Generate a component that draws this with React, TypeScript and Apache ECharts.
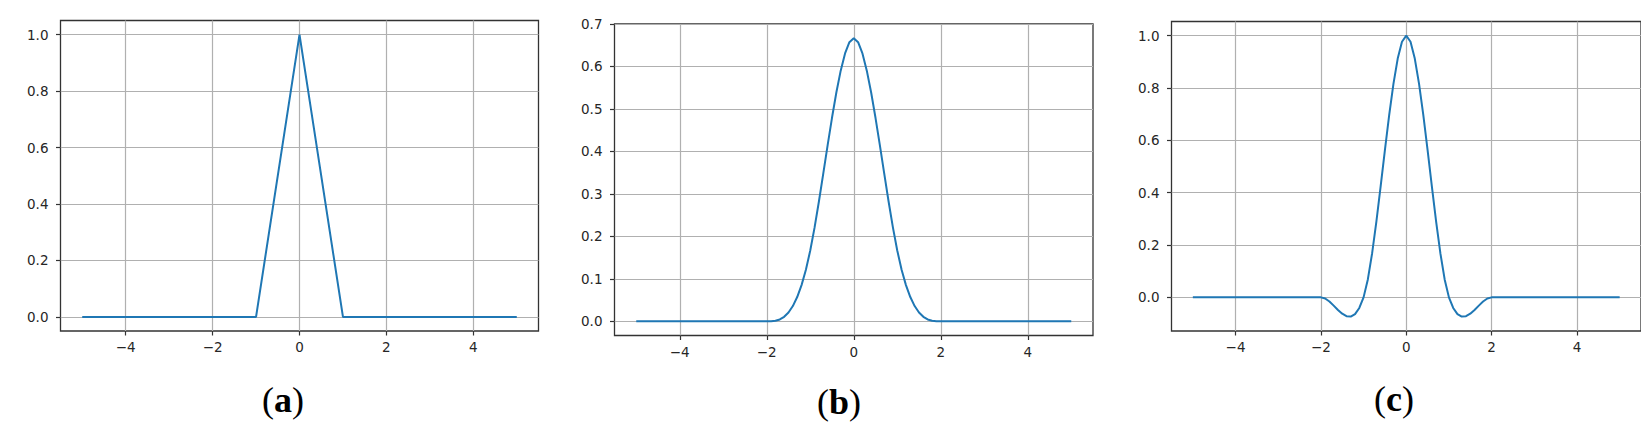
import React, { useEffect, useRef } from "react";
import * as echarts from "echarts";

// ---- data ----
const xTriangle = [-5, -1, 0, 1, 5];
const yTriangle = [0, 0, 1, 0, 0];

const xCurve = [
  -5, -2, -1.9, -1.8, -1.7, -1.6, -1.5, -1.4, -1.3, -1.2, -1.1, -1, -0.9, -0.8, -0.7, -0.6, -0.5, -0.4,
  -0.3, -0.2, -0.1, 0, 0.1, 0.2, 0.3, 0.4, 0.5, 0.6, 0.7, 0.8, 0.9, 1, 1.1, 1.2, 1.3, 1.4, 1.5, 1.6,
  1.7, 1.8, 1.9, 2, 5,
];

const yBspline = [
  0, 0, 0.0002, 0.0013, 0.0045, 0.0107, 0.0208, 0.036, 0.0572, 0.0853, 0.1215, 0.1667, 0.2212, 0.2827,
  0.3482, 0.4147, 0.4792, 0.5387, 0.5902, 0.6307, 0.6572, 0.6667, 0.6572, 0.6307, 0.5902, 0.5387,
  0.4792, 0.4147, 0.3482, 0.2827, 0.2212, 0.1667, 0.1215, 0.0853, 0.0572, 0.036, 0.0208, 0.0107,
  0.0045, 0.0013, 0.0002, 0, 0,
];

const yCubic = [
  0, 0, -0.0045, -0.016, -0.0315, -0.048, -0.0625, -0.072, -0.0735, -0.064, -0.0405, 0, 0.0685, 0.168,
  0.2895, 0.424, 0.5625, 0.696, 0.8155, 0.912, 0.9765, 1, 0.9765, 0.912, 0.8155, 0.696, 0.5625, 0.424,
  0.2895, 0.168, 0.0685, 0, -0.0405, -0.064, -0.0735, -0.072, -0.0625, -0.048, -0.0315, -0.016,
  -0.0045, 0, 0,
];

const xTicks = [-4, -2, 0, 2, 4];
const yTicksA = [0, 0.2, 0.4, 0.6, 0.8, 1.0];
const yTicksB = [0, 0.1, 0.2, 0.3, 0.4, 0.5, 0.6, 0.7];
const yTicksC = [0, 0.2, 0.4, 0.6, 0.8, 1.0];
const panelLetters = ["a", "b", "c"];

const LABEL_FONT = "DejaVu Sans";
const LABEL_COLOR = "#262626";
const LINE_COLOR = "#1f77b4";

function pairs(xs: number[], ys: number[]) {
  return xs.map((x, i) => [x, ys[i]]);
}

export default function App() {
  const ref = useRef<HTMLDivElement>(null);

  useEffect(() => {
    if (!ref.current) return;
    const chart = echarts.init(ref.current, undefined, { renderer: "svg" });

    const grids = [
      { left: 60.5, top: 20.5, width: 478, height: 310.5 },
      { left: 614.5, top: 24, width: 478.5, height: 311.5 },
      { left: 1171.5, top: 21.5, width: 473, height: 309.5 },
    ];
    const yRanges = [
      [-0.05, 1.05],
      [-0.0333, 0.7],
      [-0.1285, 1.0537],
    ];
    const yTicks = [yTicksA, yTicksB, yTicksC];
    const titlePos = [
      [283, 400],
      [839, 402],
      [1394, 399],
    ];

    const xAxis = grids.map((_, i) => ({
      type: "value",
      gridIndex: i,
      position: "bottom",
      min: -5.5,
      max: 5.5,
      axisLine: { show: false, onZero: false },
      axisTick: {
        show: true,
        customValues: xTicks,
        length: 4.5,
        lineStyle: { color: "#333", width: 1.2 },
      },
      axisLabel: {
        customValues: xTicks,
        margin: 9,
        fontFamily: LABEL_FONT,
        fontSize: 13.5,
        color: LABEL_COLOR,
        formatter: (v: number) => (v < 0 ? "\u2212" + Math.abs(v) : String(v)),
      },
      splitLine: { show: true, lineStyle: { color: "#b0b0b0", width: 1.2 } },
    }));

    const yAxis = grids.map((_, i) => ({
      type: "value",
      gridIndex: i,
      position: "left",
      min: yRanges[i][0],
      max: yRanges[i][1],
      axisLine: { show: false, onZero: false },
      axisTick: {
        show: true,
        customValues: yTicks[i],
        length: 4.5,
        lineStyle: { color: "#333", width: 1.2 },
      },
      axisLabel: {
        customValues: yTicks[i],
        margin: 12,
        fontFamily: LABEL_FONT,
        fontSize: 13.5,
        color: LABEL_COLOR,
        formatter: (v: number) => v.toFixed(1),
      },
      splitLine: { show: true, lineStyle: { color: "#b0b0b0", width: 1.2 } },
    }));

    const seriesData = [
      pairs(xTriangle, yTriangle),
      pairs(xCurve, yBspline),
      pairs(xCurve, yCubic),
    ];

    const series = seriesData.map((d, i) => ({
      type: "line",
      xAxisIndex: i,
      yAxisIndex: i,
      data: d,
      showSymbol: false,
      symbol: "none",
      lineStyle: { color: LINE_COLOR, width: 2 },
      z: 5,
    }));

    const graphic = panelLetters.map((letter, i) => ({
      type: "text",
      x: titlePos[i][0],
      y: titlePos[i][1],
      style: {
        text: "{p|(}{b|" + letter + "}{p|)}",
        align: "center",
        verticalAlign: "middle",
        fill: "#000",
        rich: {
          p: { fontFamily: "Liberation Serif", fontSize: 36, fill: "#000", fontWeight: "normal" },
          b: { fontFamily: "Liberation Serif", fontSize: 36, fill: "#000", fontWeight: "bold" },
        },
      },
    }));

    chart.setOption({
      animation: false,
      backgroundColor: "#ffffff",
      grid: grids.map((g) => ({
        ...g,
        show: true,
        borderColor: "#333",
        borderWidth: 1.3,
        backgroundColor: "transparent",
        containLabel: false,
      })),
      xAxis,
      yAxis,
      series,
      graphic,
    });

    return () => chart.dispose();
  }, []);

  return (
    <div
      ref={ref}
      style={{ position: "absolute", left: 0, top: 0, width: 1641, height: 438, background: "#fff" }}
    />
  );
}
